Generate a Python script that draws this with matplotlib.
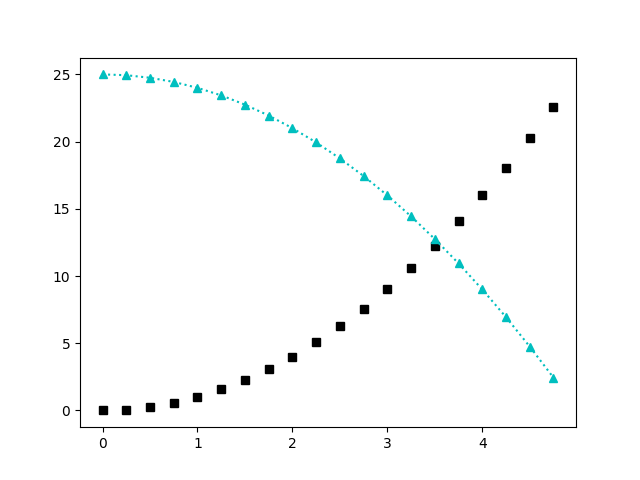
import matplotlib
matplotlib.use("Agg")
import matplotlib.pyplot as plt

# x positions
x_vals = [0.0, 0.25, 0.5, 0.75, 1.0, 1.25, 1.5, 1.75, 2.0, 2.25,
          2.5, 2.75, 3.0, 3.25, 3.5, 3.75, 4.0, 4.25, 4.5, 4.75]

# black squares
squares = [0.0, 0.06, 0.25, 0.56, 1.0, 1.56, 2.25, 3.06, 4.0, 5.06,
           6.25, 7.56, 9.0, 10.56, 12.25, 14.06, 16.0, 18.06, 20.25, 22.56]

# cyan triangles (dotted line)
triangles = [25.0, 24.94, 24.75, 24.44, 24.0, 23.44, 22.75, 21.94, 21.0, 19.94,
             18.75, 17.44, 16.0, 14.44, 12.75, 10.94, 9.0, 6.94, 4.75, 2.44]

fig, ax = plt.subplots(figsize=(6.4, 4.8), dpi=100)
ax.plot(x_vals, squares, 'ks')
ax.plot(x_vals, triangles, 'c^:')

fig.savefig("out.png")
